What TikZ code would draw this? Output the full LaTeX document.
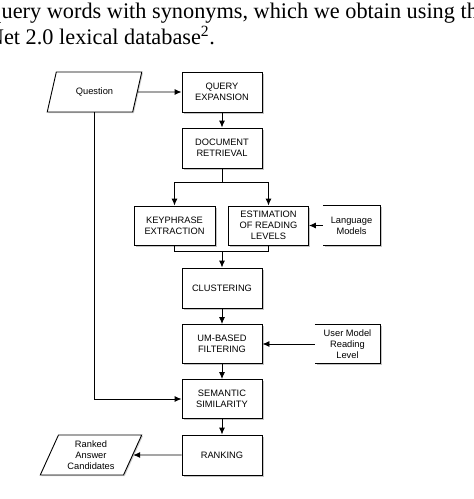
\documentclass[tikz,border=0pt]{standalone}
\usepackage{fontspec}
\setmainfont{Liberation Serif}
\setsansfont{Liberation Sans}
\usetikzlibrary{positioning, arrows.meta, shapes.geometric, shadows}

\tikzset{
  box/.style={draw, fill=white, line width=0.9pt, minimum width=80pt, minimum height=40pt,
    align=center, inner sep=1pt, drop shadow={shadow xshift=1.6pt, shadow yshift=-1.6pt, fill=black!45}},
  io/.style={trapezium, trapezium left angle=66, trapezium right angle=114, trapezium stretches=true,
    draw, fill=white, line width=0.9pt, minimum width=95pt, minimum height=40pt, align=center, inner sep=1pt,
    drop shadow={shadow xshift=1.2pt, shadow yshift=-1.2pt, fill=black!35}},
  source/.style={fill=white, minimum height=40pt, align=center, inner sep=1pt,
    drop shadow={shadow xshift=1.6pt, shadow yshift=-1.6pt, fill=black!45}},
  flow/.style={line width=0.9pt}
}

\begin{document}
\begin{tikzpicture}[x=1pt, y=1pt, node distance=56pt, on grid, >={Latex[length=7pt,width=6pt]},
    font=\sffamily\fontsize{9.3}{11}\selectfont]
   \useasboundingbox (0,0) rectangle (474,-499);
   \begin{scope}
   \clip (0,0) rectangle (474,-499);
   \node[anchor=base west, inner sep=0pt, outer sep=0pt, font=\rmfamily\fontsize{22.3}{27}\selectfont] (line1) at (-9.5,-18)
     {query words with synonyms, which we obtain using the};
   \node[anchor=base west, inner sep=0pt, outer sep=0pt, font=\rmfamily\fontsize{22.3}{27}\selectfont] (line2) at (-61,-44)
     {WordNet 2.0 lexical database\textsuperscript{2}.};
   \end{scope}

   \node[box] (query) at (222,-92) {QUERY\\EXPANSION};
   \node[box] (retrieval) [below=of query] {DOCUMENT\\RETRIEVAL};
   \node[box] (keyphrase) [below left=77.5pt and 47.5pt of retrieval, minimum width=81pt, minimum height=39pt] {KEYPHRASE\\EXTRACTION};
   \node[box] (estimation) [below right=77.5pt and 46.5pt of retrieval, minimum height=39pt] {ESTIMATION\\OF READING\\LEVELS};
   \node[source, minimum width=57pt] (langmodels) [right=83pt of estimation] {Language\\Models};
   \node[box] (clustering) [below=140pt of retrieval] {CLUSTERING};
   \node[box] (umfilter) [below=of clustering, minimum height=39pt] {UM-BASED\\FILTERING};
   \node[source, minimum width=65pt, minimum height=39pt] (usermodel) [right=125.5pt of umfilter] {User Model\\Reading\\Level};
   \node[box] (semantic) [below=55pt of umfilter, minimum height=39pt] {SEMANTIC\\SIMILARITY};
   \node[box] (ranking) [below=of semantic] {RANKING};
   \node[io] (question) [left=127.5pt of query] {Question};
   \node[io, minimum width=102pt] (answers) [left=131pt of ranking] {Ranked\\Answer\\Candidates};

   % open boxes
   \draw[flow] (langmodels.north west) -- (langmodels.north east) -- (langmodels.south east) -- (langmodels.south west);
   \draw[flow] (usermodel.north west) -- (usermodel.north east) -- (usermodel.south east) -- (usermodel.south west);

   \coordinate[below=14pt of retrieval.south] (split);
   \coordinate[above=16pt of clustering.north] (merge);

   \draw[flow, ->] (question) -- (query);
   \draw[flow, ->] (query) -- (retrieval);
   \draw[flow] (retrieval) -- (split);
   \draw[flow, ->] (split) -| (keyphrase);
   \draw[flow, ->] (split) -| (estimation);
   \draw[flow, ->] (langmodels) -- (estimation);
   \draw[flow] (keyphrase) |- (merge) -| (estimation);
   \draw[flow, ->] (merge) -- (clustering);
   \draw[flow, ->] (clustering) -- (umfilter);
   \draw[flow, ->] (usermodel) -- (umfilter);
   \draw[flow, ->] (umfilter) -- (semantic);
   \draw[flow, ->] (question) |- (semantic);
   \draw[flow, ->] (semantic) -- (ranking);
   \draw[flow, ->] (ranking) -- (answers);
\end{tikzpicture}
\end{document}
